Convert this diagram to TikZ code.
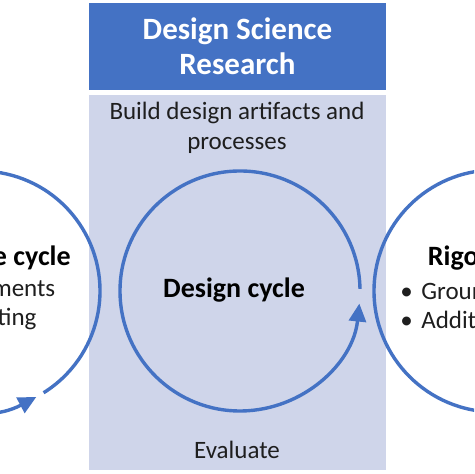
\documentclass[tikz,border=0pt]{standalone}
\usepackage{fontspec}
\setmainfont{Carlito}
\definecolor{dsblue}{RGB}{68,114,196}
\definecolor{dspanel}{RGB}{207,213,234}
\definecolor{dstext}{RGB}{30,30,30}
\usetikzlibrary{arrows.meta,positioning,calc}

\newcommand{\bul}{\makebox[10.5pt][l]{\textbullet}}

\begin{document}
\begin{tikzpicture}[x=0.5pt, y=0.5pt,
  hbox/.style={rectangle, fill=dsblue, minimum width=148.5pt, minimum height=43.5pt,
               inner sep=0pt, align=center, text=white,
               font=\fontsize{15.5pt}{17.5pt}\selectfont\bfseries},
  pbox/.style={rectangle, fill=dspanel, minimum width=148.5pt, minimum height=187.5pt,
               inner sep=0pt},
  ptxt/.style={align=center, inner sep=0pt, text=dstext,
               font=\fontsize{12.5pt}{15pt}\selectfont},
  ttl/.style={inner sep=0pt, text=black, font=\fontsize{14pt}{16pt}\selectfont\bfseries},
  lst/.style={anchor=west, align=left, inner sep=0pt, text=dstext,
              font=\fontsize{12.5pt}{14.5pt}\selectfont},
  cyc/.style={draw=dsblue, line width=1.7pt},
  arr/.style={-{Triangle[length=9pt, width=8.5pt]}}
]
\useasboundingbox (0,0) rectangle (474,474);
\clip (0,0) rectangle (474,474);
\fill[white] (0,0) rectangle (474,474);

% Middle column
\node[hbox] (head)  at (237.5,427.5) {Design Science\\Research};
\node[pbox] (panel) at (237.5,191.5) {};
\node[ptxt] (build) at (237,346) {Build design artifacts and\\processes};
\node[ptxt] (eval)  at (237,24) {Evaluate};

% Cycle centres
\coordinate (relc) at (-20,183);
\coordinate (desc) at (240,183);
\coordinate (rigc) at (495,183);

% Cycles
\draw[cyc, arr] ([shift={(-58:120)}]relc) arc[start angle=-58, end angle=298, radius=120];
\draw[cyc, arr] ([shift={(1:120)}]desc) arc[start angle=1, end angle=354, radius=120];
\draw[cyc] (rigc) circle[radius=121];

% Cycle texts
\node[ttl] (reltitle) at (-20,216) {Relevance cycle};
\node[lst] (rellist)  at (-108,169) {\bul Requirements\\\bul Field testing};

\node[ttl] (destitle) at (234,184) {Design cycle};

\node[ttl] (rigtitle) at (490,216) {Rigor cycle};
\node[lst] (riglist)  at (400,169) {\bul Grounding\\\bul Additions};
\end{tikzpicture}
\end{document}
